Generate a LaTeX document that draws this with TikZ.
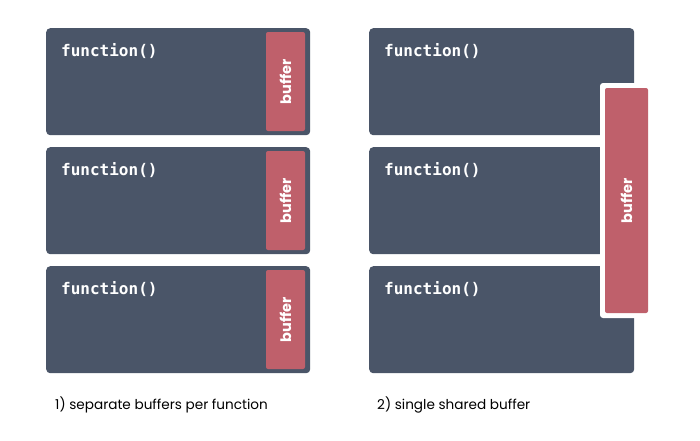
\documentclass[tikz,border=0pt]{standalone}
\usepackage{fontspec}
\setmonofont{DejaVu Sans Mono}
\newfontfamily\labelfont{Poppins}
\definecolor{funcgray}{HTML}{4A5568}
\definecolor{bufred}{HTML}{BF606B}
\tikzset{
  funcbox/.style={fill=funcgray, rounded corners=4pt, inner sep=0pt,
    minimum width=264pt, minimum height=107pt, anchor=north west},
  functext/.style={text=white, font=\ttfamily\bfseries\fontsize{16}{18}\selectfont,
    anchor=base west, inner sep=0pt},
  bufbox/.style={fill=bufred, rounded corners=2pt, inner sep=0pt, text=white,
    font=\labelfont\bfseries\fontsize{14.5}{18}\selectfont},
  caption/.style={font=\labelfont\fontsize{13.6}{16}\selectfont, anchor=base west, inner sep=0pt}
}
\begin{document}
\begin{tikzpicture}[x=1pt,y=-1pt]
    \useasboundingbox (0,0) rectangle (700,440);

    % 1) separate buffers
    \node[funcbox] (fa) at (46,28) {};
    \node[funcbox] (fb) at (46,147) {};
    \node[funcbox] (fc) at (46,266) {};
    \node[functext] (ta) at (61,56) {function()};
    \node[functext] (tb) at (61,175) {function()};
    \node[functext] (tc) at (61,294) {function()};
    \node[bufbox, minimum width=39pt, minimum height=99pt] (ba) at (285.5,81.5) {\rotatebox{90}{buffer}};
    \node[bufbox, minimum width=39pt, minimum height=99pt] (bb) at (285.5,200.5) {\rotatebox{90}{buffer}};
    \node[bufbox, minimum width=39pt, minimum height=99pt] (bc) at (285.5,319.5) {\rotatebox{90}{buffer}};

    % 2) single shared buffer
    \node[funcbox, minimum width=265pt] (fd) at (369,28) {};
    \node[funcbox, minimum width=265pt] (fe) at (369,147) {};
    \node[funcbox, minimum width=265pt] (ff) at (369,266) {};
    \node[functext] (td) at (384,56) {function()};
    \node[functext] (te) at (384,175) {function()};
    \node[functext] (tf) at (384,294) {function()};
    \node[fill=white, rounded corners=3pt, minimum width=53pt, minimum height=235pt, inner sep=0pt] (gap) at (626.5,200.5) {};
    \node[bufbox, minimum width=43pt, minimum height=225pt] (bd) at (gap.center) {\rotatebox{90}{buffer}};

    \node[caption] (ca) at (55,409) {1) separate buffers per function};
    \node[caption] (cb) at (377,409) {2) single shared buffer};
\end{tikzpicture}
\end{document}
